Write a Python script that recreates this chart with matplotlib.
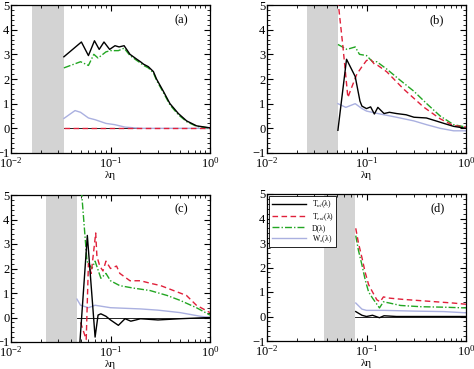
import numpy as np
import matplotlib
matplotlib.use("Agg")
import matplotlib.pyplot as plt
from matplotlib.ticker import MultipleLocator, LogLocator, NullFormatter

plt.rcParams['font.family'] = ['Liberation Serif', 'DejaVu Serif']
plt.rcParams['mathtext.fontset'] = 'stix'

panel_labels = ["(a)", "(b)", "(c)", "(d)"]
legend_labels = [r"T$_{nl}$(λ)", r"T$_{enl}$(λ)", r"D(λ)", r"W$_s$(λ)"]
xlabel = "λη"
gray_bands = [(0.0161, 0.034), (0.025, 0.0518), (0.0223, 0.0464), (0.037, 0.0773)]

# Panel (a)
a_T_x = [0.034, 0.051, 0.060, 0.069, 0.077, 0.086, 0.098, 0.111, 0.122, 0.137, 0.157, 0.17, 0.184, 0.2, 0.215, 0.24, 0.27, 0.29, 0.34, 0.396, 0.481, 0.583, 0.734, 1.0]
a_T_y = [2.9, 3.5, 2.95, 3.55, 3.2, 3.5, 3.2, 3.35, 3.3, 3.35, 3.0, 2.9, 2.8, 2.7, 2.6, 2.5, 2.3, 2.0, 1.5, 1.0, 0.6, 0.3, 0.1, 0.02]
a_E_x = [0.034, 1.0]
a_E_y = [0.0, 0.0]
a_D_x = [0.034, 0.050, 0.060, 0.068, 0.075, 0.090, 0.100, 0.120, 0.137, 0.157, 0.17, 0.184, 0.2, 0.215, 0.24, 0.27, 0.29, 0.34, 0.396, 0.481, 0.583, 0.734, 1.0]
a_D_y = [2.45, 2.7, 2.55, 3.0, 2.85, 3.1, 3.15, 3.15, 3.25, 2.95, 2.85, 2.75, 2.65, 2.55, 2.45, 2.25, 1.95, 1.45, 0.95, 0.55, 0.27, 0.08, 0.01]
a_W_x = [0.034, 0.044, 0.050, 0.060, 0.070, 0.090, 0.110, 0.140, 0.2, 1.0]
a_W_y = [0.4, 0.72, 0.65, 0.42, 0.35, 0.2, 0.15, 0.05, 0.0, 0.0]

# Panel (b)
b_T_x = [0.0516, 0.063, 0.077, 0.086, 0.09, 0.1, 0.11, 0.12, 0.13, 0.15, 0.17, 0.2, 0.25, 0.3, 0.4, 0.5, 0.6, 0.75, 1.0]
b_T_y = [-0.08, 2.8, 2.1, 1.1, 0.9, 0.8, 0.87, 0.58, 0.85, 0.6, 0.65, 0.6, 0.55, 0.45, 0.42, 0.3, 0.2, 0.08, 0.0]
b_E_x = [0.0516, 0.058, 0.065, 0.07, 0.08, 0.09, 0.1, 0.11, 0.12, 0.13, 0.16, 0.235, 0.373, 0.548, 0.74, 1.0]
b_E_y = [5.2, 3.3, 1.25, 1.6, 2.2, 2.5, 2.75, 2.8, 2.6, 2.55, 2.29, 1.6, 0.87, 0.39, 0.12, 0.05]
b_D_x = [0.0516, 0.0636, 0.077, 0.085, 0.1, 0.115, 0.127, 0.16, 0.218, 0.3, 0.403, 0.55, 0.75, 1.0]
b_D_y = [3.4, 3.2, 3.3, 3.0, 2.95, 2.7, 2.7, 2.4, 1.95, 1.5, 1.0, 0.5, 0.15, 0.05]
b_W_x = [0.0516, 0.062, 0.077, 0.09, 0.1, 0.13, 0.2, 0.3, 0.4, 0.55, 0.75, 1.0]
b_W_y = [1.0, 0.85, 1.0, 0.8, 0.7, 0.6, 0.45, 0.3, 0.15, 0.0, -0.1, -0.1]

# Panel (c)
c_T_x = [0.0487, 0.0585, 0.070, 0.075, 0.080, 0.090, 0.100, 0.120, 0.140, 0.160, 0.180, 0.200, 0.300, 0.500, 1.0]
c_T_y = [-1.3, 3.35, -0.8, 0.1, 0.15, 0.05, -0.1, -0.32, -0.05, -0.15, -0.1, -0.05, -0.1, -0.05, 0.0]
c_E_x = [0.050, 0.057, 0.060, 0.064, 0.071, 0.073, 0.078, 0.084, 0.090, 0.100, 0.115, 0.124, 0.157, 0.200, 0.250, 0.320, 0.430, 0.580, 0.730, 1.0]
c_E_y = [-0.2, -0.9, 2.2, 1.8, 3.45, 2.5, 2.1, 1.9, 2.3, 2.0, 2.1, 1.8, 1.5, 1.5, 1.4, 1.3, 1.1, 0.9, 0.5, 0.2]
c_D_x = [0.051, 0.058, 0.065, 0.070, 0.080, 0.090, 0.100, 0.124, 0.170, 0.250, 0.370, 0.500, 0.730, 1.0]
c_D_y = [5.2, 2.3, 2.0, 2.3, 1.6, 1.8, 1.5, 1.3, 1.2, 1.1, 0.9, 0.7, 0.4, 0.1]
c_W_x = [0.046, 0.050, 0.060, 0.070, 0.100, 0.200, 0.300, 0.500, 0.800, 1.0]
c_W_y = [0.75, 0.5, 0.4, 0.5, 0.4, 0.35, 0.3, 0.2, 0.05, 0.0]

# Panel (d)
d_T_x = [0.078, 0.090, 0.100, 0.115, 0.135, 0.150, 0.200, 1.0]
d_T_y = [0.2, 0.05, 0.0, 0.05, -0.05, 0.03, 0.0, 0.0]
d_E_x = [0.078, 0.083, 0.090, 0.097, 0.105, 0.115, 0.127, 0.137, 0.148, 0.170, 0.230, 0.340, 0.500, 0.740, 1.0]
d_E_y = [3.6, 3.0, 2.4, 1.8, 1.3, 1.0, 0.68, 0.6, 0.8, 0.75, 0.7, 0.65, 0.6, 0.55, 0.5]
d_D_x = [0.078, 0.083, 0.090, 0.097, 0.105, 0.115, 0.135, 0.148, 0.170, 0.220, 0.350, 0.600, 1.0]
d_D_y = [3.3, 2.7, 2.1, 1.5, 1.0, 0.75, 0.35, 0.6, 0.55, 0.45, 0.4, 0.38, 0.35]
d_W_x = [0.078, 0.090, 0.100, 0.150, 0.300, 0.600, 1.0]
d_W_y = [0.55, 0.3, 0.25, 0.25, 0.22, 0.2, 0.15]

panels = [
    (a_T_x, a_T_y, a_E_x, a_E_y, a_D_x, a_D_y, a_W_x, a_W_y),
    (b_T_x, b_T_y, b_E_x, b_E_y, b_D_x, b_D_y, b_W_x, b_W_y),
    (c_T_x, c_T_y, c_E_x, c_E_y, c_D_x, c_D_y, c_W_x, c_W_y),
    (d_T_x, d_T_y, d_E_x, d_E_y, d_D_x, d_D_y, d_W_x, d_W_y),
]
zero_line = [True, False, True, True]

W, H = 474, 369
fig = plt.figure(figsize=(W / 100, H / 100), dpi=100)
boxes = [(11, 5, 210, 153), (267, 5, 466, 153), (11, 195, 210, 342), (267, 194, 466, 341)]

col_T = "black"
col_E = "#e0203a"
col_D = "#23a623"
col_W = "#aab0e0"

for i, (box, data) in enumerate(zip(boxes, panels)):
    l, t, r, b = box
    ax = fig.add_axes([l / W, 1 - b / H, (r - l) / W, (b - t) / H])
    Tx, Ty, Ex, Ey, Dx, Dy, Wx, Wy = data
    g0, g1 = gray_bands[i]
    ax.axvspan(g0, g1, color="#d3d3d3", lw=0, zorder=0)
    if zero_line[i]:
        ax.plot([g1, 1.0], [0, 0], color="black", lw=0.6, zorder=1)
    ax.plot(Wx, Wy, color=col_W, lw=1.0, label=legend_labels[3], zorder=2)
    ax.plot(Dx, Dy, color=col_D, lw=1.0, ls=(0, (5, 1.5, 1, 1.5)), label=legend_labels[2], zorder=3)
    ax.plot(Ex, Ey, color=col_E, lw=1.0, ls=(0, (4, 2.5)), label=legend_labels[1], zorder=4)
    ax.plot(Tx, Ty, color=col_T, lw=1.0, label=legend_labels[0], zorder=5)
    ax.set_xscale("log")
    ax.set_xlim(0.01, 1.0)
    ax.set_ylim(-1, 5)
    ax.yaxis.set_major_locator(MultipleLocator(1))
    ax.yaxis.set_minor_locator(MultipleLocator(0.2))
    ax.xaxis.set_major_locator(LogLocator(base=10, numticks=5))
    ax.xaxis.set_minor_locator(LogLocator(base=10, subs=np.arange(2, 10), numticks=20))
    ax.xaxis.set_minor_formatter(NullFormatter())
    ax.tick_params(which="both", direction="in", top=True, right=True, labelsize=9)
    ax.tick_params(axis="y", pad=1.2)
    ax.tick_params(axis="x", pad=2.5)
    ax.tick_params(which="major", length=4, width=0.8)
    ax.tick_params(which="minor", length=2, width=0.6)
    for s in ax.spines.values():
        s.set_linewidth(0.9)
    ax.set_xlabel(xlabel, fontsize=8, labelpad=0)
    ax.text(0.855, 0.9, panel_labels[i], transform=ax.transAxes, fontsize=9, ha="center", va="center")
    if i == 3:
        h, lab = ax.get_legend_handles_labels()
        order = [3, 2, 1, 0]
        leg = ax.legend([h[k] for k in order], [lab[k] for k in order], loc="upper left",
                        fontsize=5.5, frameon=True, fancybox=False, edgecolor="black",
                        framealpha=1, borderpad=0.3, labelspacing=0.15, handlelength=4.5,
                        handletextpad=0.8, markerfirst=True, borderaxespad=0.3)
        leg.get_frame().set_linewidth(0.6)
        for txt in leg.get_texts():
            txt.set_ha("right")
        leg._legend_box.align = "right"

fig.savefig("out.png", dpi=100)
